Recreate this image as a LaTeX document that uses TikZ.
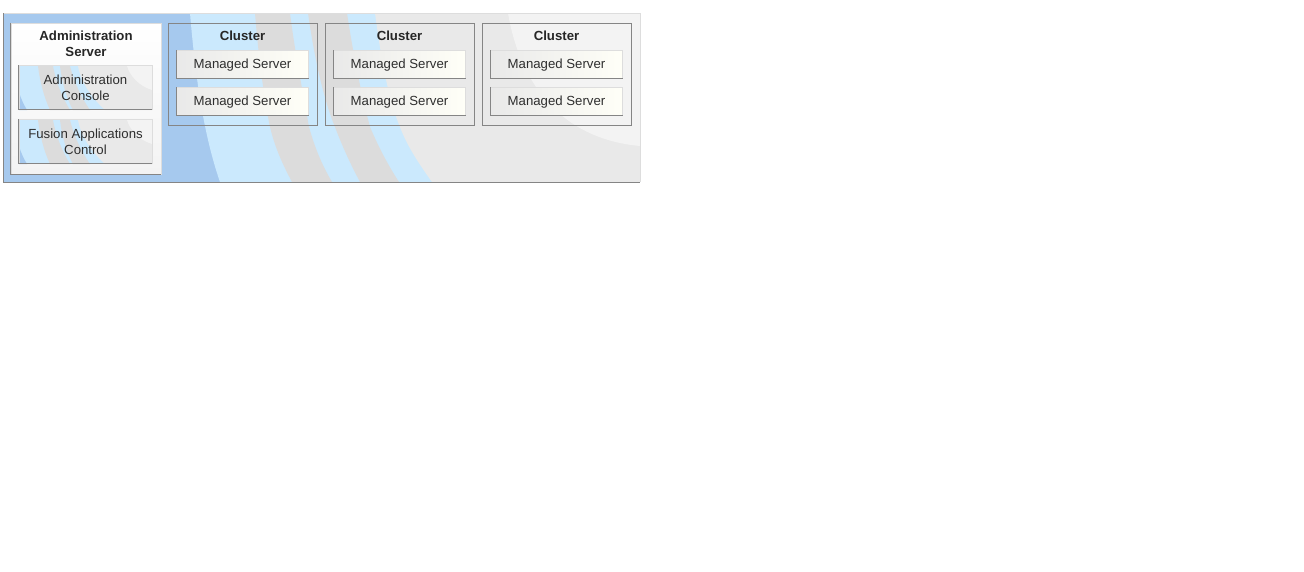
\documentclass[tikz,border=0pt]{standalone}
\usepackage{fontspec}
\setmainfont{Liberation Sans}
\definecolor{skyblue}{HTML}{A6C9EE}
\definecolor{paleblue}{HTML}{CBE9FD}
\definecolor{bandgrey}{HTML}{DCDCDC}
\definecolor{panelgrey}{HTML}{E9E9E9}
\definecolor{lightgrey}{HTML}{F3F3F3}
\definecolor{edgegrey}{HTML}{858585}
\definecolor{rimgrey}{HTML}{DDDDDD}
\definecolor{textgrey}{HTML}{2E2E2E}
\newcommand{\panelart}{%
    \fill[skyblue] (0, 0) rectangle (637, 169);
    \fill[paleblue] (187, 0) .. controls (192, 60) and (200, 120) .. (217, 169) -- (637, 169) -- (637, 0) -- cycle;
    \fill[bandgrey] (252, 0) .. controls (256, 50) and (262, 90) .. (267, 114) .. controls (272, 135) and (280, 152) .. (289, 169)
        -- (329, 169) .. controls (318, 150) and (312, 135) .. (306, 114) .. controls (300, 80) and (292, 40) .. (287, 0) -- cycle;
    \fill[bandgrey] (305, 0) .. controls (312, 50) and (322, 90) .. (332, 114) .. controls (340, 135) and (348, 152) .. (357, 169)
        -- (396, 169) .. controls (385, 152) and (376, 135) .. (367, 114) .. controls (358, 80) and (350, 40) .. (344, 0) -- cycle;
    \fill[panelgrey] (372, 0) .. controls (378, 45) and (385, 85) .. (397, 114) .. controls (405, 135) and (417, 152) .. (429, 169)
        -- (637, 169) -- (637, 0) -- cycle;
    \fill[lightgrey] (505, 0) .. controls (515, 60) and (550, 125) .. (637, 133) -- (637, 0) -- cycle;
}
\newcommand{\boxart}{%
    \fill[paleblue] (0, 0) rectangle (133, 44);
    \fill[skyblue] (0, 26) .. controls (2, 33) and (5, 39) .. (8, 44) -- (0, 44) -- cycle;
    \fill[bandgrey] (19, 0) .. controls (21, 16) and (25, 31) .. (31, 44) -- (51, 44) .. controls (43, 31) and (37, 16) .. (34, 0) -- cycle;
    \fill[bandgrey] (41, 0) .. controls (43, 16) and (47, 31) .. (54, 44) -- (71, 44) .. controls (62, 31) and (55, 16) .. (51, 0) -- cycle;
    \fill[panelgrey] (59, 0) .. controls (62, 16) and (72, 31) .. (86, 44) -- (133, 44) -- (133, 0) -- cycle;
    \fill[lightgrey] (108, 0) .. controls (111, 10) and (120, 20) .. (133, 24) -- (133, 0) -- cycle;
}
\tikzset{
    serverbox/.style={minimum width=133pt, minimum height=44pt, inner sep=0pt, align=center, text=textgrey, draw=rimgrey, line width=0.8pt},
    managedbox/.style={minimum width=132pt, minimum height=28pt, inner sep=0pt, text depth=1pt, text=textgrey, draw=rimgrey, line width=0.8pt, left color=panelgrey, middle color=panelgrey, right color=white!97!yellow},
    clusterbox/.style={minimum width=149pt, minimum height=102pt, inner sep=0pt, draw=edgegrey, line width=1pt},
    heading/.style={font=\fontsize{13.2}{16}\selectfont\bfseries, align=center, text=black!85},
    shadeline/.style={draw=edgegrey, line width=1pt}
}
\begin{document}
\begin{tikzpicture}[x=1pt, y=-1pt, font=\fontsize{13.2}{16}\selectfont]
    \useasboundingbox (0, 0) rectangle (1304, 571);

    % background panel
    \node (panel) [minimum width=637pt, minimum height=169pt, inner sep=0pt, anchor=north west] at (3, 13) {};
    \begin{scope}[shift={(3, 13)}]
        \panelart
    \end{scope}
    \draw[rimgrey, line width=0.8pt] (panel.north west) -- (panel.north east) -- (panel.south east);
    \draw[edgegrey, line width=0.6pt] (panel.north west) -- (panel.south west);
    \draw[edgegrey, line width=0.9pt] (panel.south west) -- (panel.south east);

    % administration server
    \node (admin) [minimum width=150pt, minimum height=151pt, inner sep=0pt, top color=white, bottom color=lightgrey, draw=rimgrey, line width=0.8pt] at (86, 98.5) {};
    \draw[shadeline] (admin.north west) -- (admin.south west) -- (admin.south east);
    \node (adminhead) [heading] at (86, 43.5) {Administration\\Server};

    \begin{scope}[shift={(19, 66)}]
        \boxart
    \end{scope}
    \begin{scope}[shift={(19, 120)}]
        \boxart
    \end{scope}
    \node (console) [serverbox] at (85.5, 87.5) {Administration\\Console};
    \node (fusion) [serverbox] at (85.5, 141.5) {Fusion Applications\\Control};
    \draw[shadeline] (console.north west) -- (console.south west) -- (console.south east);
    \draw[shadeline] (fusion.north west) -- (fusion.south west) -- (fusion.south east);

    % clusters
    \foreach \n/\cx in {one/242.5, two/399.5, three/556.5} {
        \node (cluster\n) [clusterbox] at (\cx, 74) {};
        \node (head\n) [heading] at (\cx, 36) {Cluster};
        \node (top\n) [managedbox] at (\cx, 64.5) {Managed Server};
        \node (bottom\n) [managedbox] at (\cx, 101.5) {Managed Server};
        \draw[shadeline] (top\n.north west) -- (top\n.south west) -- (top\n.south east);
        \draw[shadeline] (bottom\n.north west) -- (bottom\n.south west) -- (bottom\n.south east);
    }
\end{tikzpicture}
\end{document}
